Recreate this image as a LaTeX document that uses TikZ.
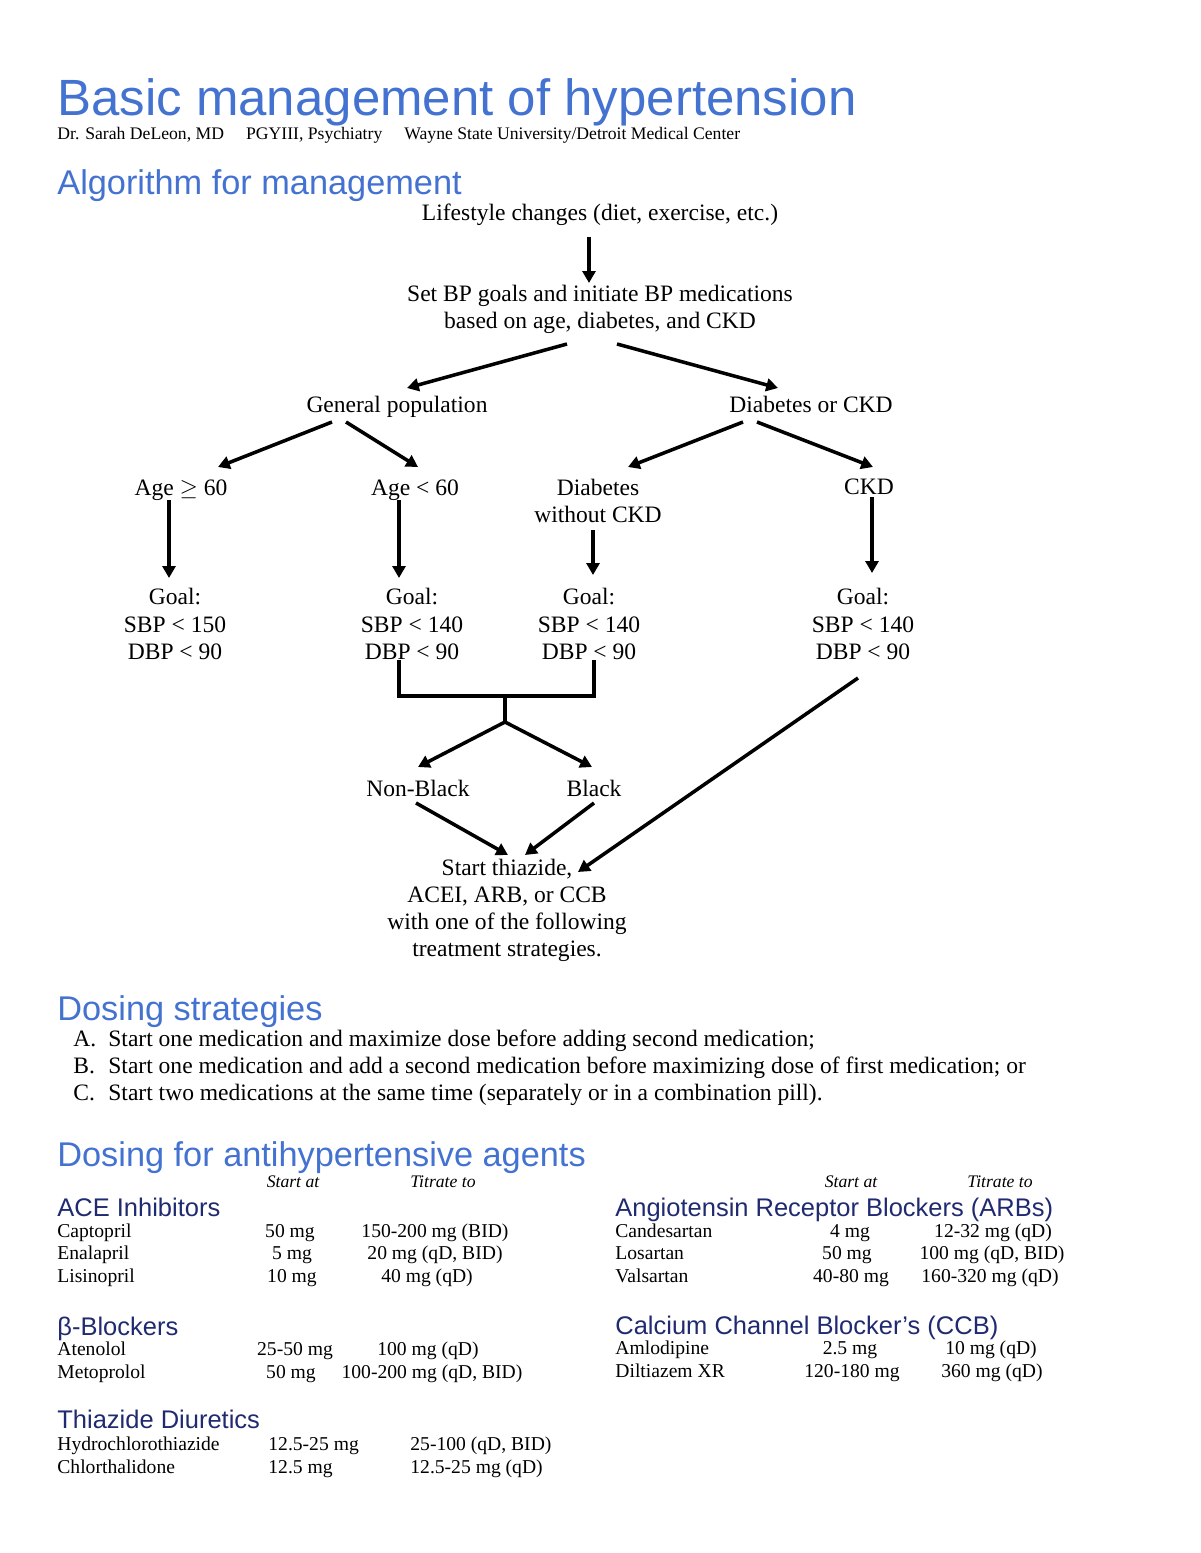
\documentclass[tikz,border=0pt]{standalone}
\usepackage{fontspec}
\setmainfont{Liberation Serif}
\newfontfamily\headfont{Liberation Sans}
\usetikzlibrary{arrows.meta,positioning}

\definecolor{titleblue}{RGB}{68,114,208}
\definecolor{subnavy}{RGB}{31,42,112}

\begin{document}
\begin{tikzpicture}[
    x=0.51pt, y=-0.51pt,
    every node/.style={font=\fontsize{12}{13.8}\selectfont, inner sep=0pt},
    flow/.style={align=center},
    arr/.style={-{Triangle[length=6pt,width=6.5pt]}, line width=1.8pt},
    link/.style={line width=1.8pt},
    heading/.style={anchor=base west, text=titleblue, font=\headfont\fontsize{17.5}{20}\selectfont},
    subhead/.style={anchor=base west, text=subnavy, font=\headfont\fontsize{13}{15}\selectfont},
    cell/.style={anchor=base, font=\fontsize{10}{12}\selectfont},
    drug/.style={cell, anchor=base west},
    colhead/.style={anchor=base, font=\itshape\fontsize{9}{11}\selectfont}
]
\useasboundingbox (0,0) rectangle (1200,1553);

% Title block
\node[anchor=base west, text=titleblue, font=\headfont\fontsize{26}{30}\selectfont] (title) at (57,116) {Basic management of hypertension};
\node[anchor=base west, font=\fontsize{9}{11}\selectfont] (author) at (57,140) {Dr. Sarah DeLeon, MD \quad PGYIII, Psychiatry \quad Wayne State University/Detroit Medical Center};

% Algorithm
\node[heading] (algo) at (57,195) {Algorithm for management};

\node[flow] (life) at (600,215) {Lifestyle changes (diet, exercise, etc.)};
\node[flow] (setbp) at (600,309) {Set BP goals and initiate BP medications\\based on age, diabetes, and CKD};

\node[flow] (gen) at (397,407) {General population};
\node[flow] (dorc) at (811,404) {Diabetes or CKD};

\node[flow] (age1) at (181,490) {Age $\geq$ 60};
\node[flow] (age2) at (415,490) {Age \textless\ 60};
\node[flow] (diab) at (598,501) {Diabetes\\without CKD};
\node[flow] (ckd) at (869,487) {CKD};

\node[flow] (goal1) at (175,624) {Goal:\\SBP \textless\ 150\\DBP \textless\ 90};
\node[flow] (goal2) at (412,624) {Goal:\\SBP \textless\ 140\\DBP \textless\ 90};
\node[flow] (goal3) at (589,624) {Goal:\\SBP \textless\ 140\\DBP \textless\ 90};
\node[flow] (goal4) at (863,624) {Goal:\\SBP \textless\ 140\\DBP \textless\ 90};

\coordinate (fork) at (505,696);
\coordinate (split) at (505,722);

\node[flow] (nonb) at (418,788) {Non-Black};
\node[flow] (black) at (594,788) {Black};

\node[flow] (start) at (507,910) {Start thiazide,\\ACEI, ARB, or CCB\\with one of the following\\treatment strategies.};

% Arrows
\draw[arr] ([shift={(-11,22)}]life.center) -- ([shift={(-11,-26)}]setbp.center);
\draw[arr] ([shift={(-33,35)}]setbp.center) -- ([shift={(10,-19)}]gen.center);
\draw[arr] ([shift={(17,35)}]setbp.center) -- ([shift={(-33,-16)}]dorc.center);
\draw[arr] ([shift={(-65,15)}]gen.center) -- ([shift={(37,-23)}]age1.center);
\draw[arr] ([shift={(-51,15)}]gen.center) -- ([shift={(3,-23)}]age2.center);
\draw[arr] ([shift={(-68,18)}]dorc.center) -- ([shift={(30,-34)}]diab.center);
\draw[arr] ([shift={(-54,18)}]dorc.center) -- ([shift={(4,-20)}]ckd.center);
\draw[arr] ([shift={(-12,10)}]age1.center) -- ([shift={(-6,-46)}]goal1.center);
\draw[arr] ([shift={(-16,10)}]age2.center) -- ([shift={(-13,-46)}]goal2.center);
\draw[arr] ([shift={(-5,29)}]diab.center) -- ([shift={(4,-49)}]goal3.center);
\draw[arr] ([shift={(3,10)}]ckd.center) -- ([shift={(9,-51)}]goal4.center);

% Bracket joining the two SBP<140 goals
\draw[link] ([shift={(-13,36)}]goal2.center) |- (fork) -| ([shift={(5,36)}]goal3.center);
\draw[link] (fork) -- (split);
\draw[arr] (split) -- ([shift={(0,-21)}]nonb.center);
\draw[arr] (split) -- ([shift={(-2,-21)}]black.center);

\draw[arr] ([shift={(-2,15)}]nonb.center) -- ([shift={(1,-55)}]start.center);
\draw[arr] ([shift={(0,15)}]black.center) -- ([shift={(18,-55)}]start.center);
\draw[arr] ([shift={(-5,54)}]goal4.center) -- ([shift={(71,-38)}]start.center);

% Dosing strategies
\node[heading] (dose) at (57,1020) {Dosing strategies};
\node[anchor=base west] (itemA) at (73,1046) {A.};
\node[anchor=base west] (textA) at (108,1046) {Start one medication and maximize dose before adding second medication;};
\node[anchor=base west] (itemB) at (73,1073) {B.};
\node[anchor=base west] (textB) at (108,1073) {Start one medication and add a second medication before maximizing dose of first medication; or};
\node[anchor=base west] (itemC) at (73,1100) {C.};
\node[anchor=base west] (textC) at (108,1100) {Start two medications at the same time (separately or in a combination pill).};

% Dosing for agents
\node[heading] (agents) at (57,1166) {Dosing for antihypertensive agents};

\node[colhead] (startL) at (293,1187) {Start at};
\node[colhead] (titrL) at (443,1187) {Titrate to};
\node[colhead] (startR) at (851,1187) {Start at};
\node[colhead] (titrR) at (1000,1187) {Titrate to};

% ACE inhibitors
\node[subhead] (ace) at (57,1216) {ACE Inhibitors};
\node[drug] (cap) at (57,1237) {Captopril};
\node[cell] (capS) at (290,1237) {50 mg};
\node[cell] (capT) at (435,1237) {150-200 mg (BID)};
\node[drug] (ena) at (57,1259) {Enalapril};
\node[cell] (enaS) at (292,1259) {5 mg};
\node[cell] (enaT) at (435,1259) {20 mg (qD, BID)};
\node[drug] (lis) at (57,1282) {Lisinopril};
\node[cell] (lisS) at (292,1282) {10 mg};
\node[cell] (lisT) at (427,1282) {40 mg (qD)};

% ARBs
\node[subhead] (arb) at (615,1216) {Angiotensin Receptor Blockers (ARBs)};
\node[drug] (can) at (615,1237) {Candesartan};
\node[cell] (canS) at (850,1237) {4 mg};
\node[cell] (canT) at (993,1237) {12-32 mg (qD)};
\node[drug] (los) at (615,1259) {Losartan};
\node[cell] (losS) at (847,1259) {50 mg};
\node[cell] (losT) at (992,1259) {100 mg (qD, BID)};
\node[drug] (val) at (615,1282) {Valsartan};
\node[cell] (valS) at (851,1282) {40-80 mg};
\node[cell] (valT) at (990,1282) {160-320 mg (qD)};

% Beta blockers
\node[subhead] (beta) at (57,1335) {β-Blockers};
\node[drug] (ate) at (57,1355) {Atenolol};
\node[cell] (ateS) at (295,1355) {25-50 mg};
\node[cell] (ateT) at (428,1355) {100 mg (qD)};
\node[drug] (met) at (57,1378) {Metoprolol};
\node[cell] (metS) at (291,1378) {50 mg};
\node[cell] (metT) at (432,1378) {100-200 mg (qD, BID)};

% Calcium channel blockers
\node[subhead] (ccb) at (615,1334) {Calcium Channel Blocker’s (CCB)};
\node[drug] (aml) at (615,1354) {Amlodipine};
\node[cell] (amlS) at (850,1354) {2.5 mg};
\node[cell] (amlT) at (991,1354) {10 mg (qD)};
\node[drug] (dil) at (615,1377) {Diltiazem XR};
\node[cell] (dilS) at (852,1377) {120-180 mg};
\node[cell] (dilT) at (992,1377) {360 mg (qD)};

% Thiazide diuretics
\node[subhead] (thz) at (57,1428) {Thiazide Diuretics};
\node[drug] (hct) at (57,1450) {Hydrochlorothiazide};
\node[drug] (hctS) at (268,1450) {12.5-25 mg};
\node[drug] (hctT) at (410,1450) {25-100 (qD, BID)};
\node[drug] (chl) at (57,1473) {Chlorthalidone};
\node[drug] (chlS) at (268,1473) {12.5 mg};
\node[drug] (chlT) at (410,1473) {12.5-25 mg (qD)};

\end{tikzpicture}
\end{document}
